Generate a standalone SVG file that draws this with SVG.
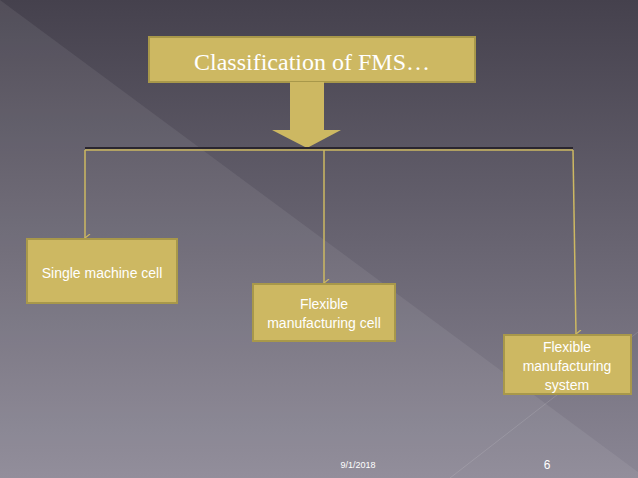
<svg xmlns="http://www.w3.org/2000/svg" width="638" height="478" viewBox="0 0 638 478">
<defs>
<linearGradient id="bg" x1="0" y1="0" x2="0" y2="1"><stop offset="0" stop-color="#45414d"/><stop offset="1" stop-color="#8a8694"/></linearGradient>
<marker id="ah" markerWidth="8" markerHeight="8" refX="4" refY="7" orient="auto-start-reverse" markerUnits="userSpaceOnUse"><path d="M0,2 L4,7 L8,2" fill="none" stroke="#cdb862" stroke-width="1.2"/></marker>
</defs>
<style>
.box{fill:#cdb862;stroke:#a8984a;stroke-width:2}
.t{font-family:"Liberation Sans",Arial,sans-serif;font-size:14px;fill:#fff;text-anchor:middle}
.c{stroke:#cdb862;stroke-width:1.5;fill:none}
</style>
<rect width="638" height="478" fill="url(#bg)"/>
<path d="M0,0 L638,472 L638,478 L0,478 Z" fill="#ffffff" opacity="0.07"/>
<path d="M450,478 L638,332" stroke="#ffffff" stroke-opacity="0.12" fill="none"/>
<g id="title"><rect class="box" x="149" y="37" width="326" height="45"/>
<text x="312" y="70" font-family="Liberation Serif,serif" font-size="24" fill="#fff" text-anchor="middle">Classification of FMS…</text></g>
<g id="connectors">
<path d="M290,82 L324,82 L324,130 L341,130 L307,148 L272,130 L290,130 Z" fill="#cdb862"/>
<line x1="85" y1="148" x2="573" y2="148" stroke="#2a2630" stroke-width="2"/>
<line class="c" x1="85" y1="150" x2="573" y2="150" stroke-width="2"/>
<line class="c" x1="85" y1="150" x2="85" y2="238" marker-end="url(#ah)"/>
<line class="c" x1="324" y1="150" x2="324" y2="283" marker-end="url(#ah)"/>
<line class="c" x1="573" y1="150" x2="576" y2="334" marker-end="url(#ah)"/>
</g>
<g id="n1"><rect class="box" x="27" y="239" width="150" height="64"/><text class="t" x="102" y="278">Single machine cell</text></g>
<g id="n2"><rect class="box" x="253" y="284" width="142" height="57"/><text class="t" x="324" y="309">Flexible</text><text class="t" x="324" y="328">manufacturing cell</text></g>
<g id="n3"><rect class="box" x="504" y="335" width="127" height="59"/><text class="t" x="567" y="352">Flexible</text><text class="t" x="567" y="371">manufacturing</text><text class="t" x="567" y="390">system</text></g>
<text x="358" y="468" font-family="Liberation Sans,sans-serif" font-size="9" fill="#fff" text-anchor="middle">9/1/2018</text>
<text x="547" y="469" font-family="Liberation Sans,sans-serif" font-size="12" fill="#fff" text-anchor="middle">6</text>
</svg>
